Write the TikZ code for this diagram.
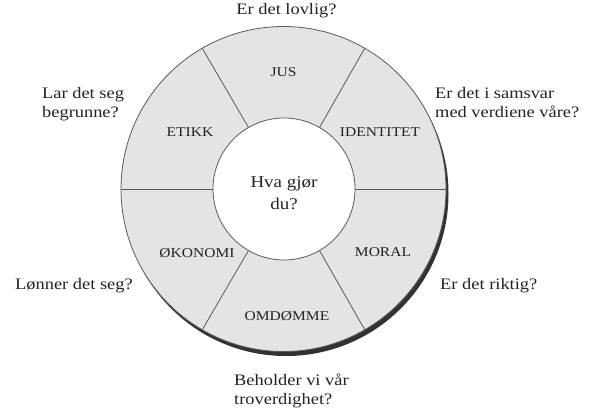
\documentclass[tikz,border=0pt]{standalone}
\usepackage{fontspec}
\setmainfont{Liberation Serif}[FakeStretch=1.15]
\definecolor{sectorfill}{RGB}{228,228,228}
\definecolor{rimline}{RGB}{90,90,90}
\definecolor{shadowc}{RGB}{50,50,50}
\definecolor{txt}{RGB}{35,35,35}
\begin{document}
\begin{tikzpicture}[x=1pt,y=-1pt,
  question/.style={inner sep=0pt, align=left, anchor=north west, text=txt, font=\fontsize{16}{19}\selectfont},
  sector/.style={inner sep=0pt, text=txt, font=\fontsize{13.5}{16}\selectfont},
  ring/.style={circle, inner sep=0pt, outer sep=0pt, draw=rimline, line width=0.8pt},
  divider/.style={draw=rimline, line width=0.8pt}]
\useasboundingbox (0,0) rectangle (605,410);
\fill[white] (0,0) rectangle (605,410);
% shadow
\fill[shadowc] (286,193.5) circle (162.5);
\node[ring, minimum size=325pt, fill=sectorfill] (outer) at (283.5,189) {};
\node[ring, minimum size=142pt, fill=white] (inner) at (284,189) {};
\foreach \a in {0,60,...,300} \draw[divider] (inner.\a) -- (outer.\a);
% centre text
\node[inner sep=0pt, align=center, text=txt, font=\fontsize{16.5}{22}\selectfont] (centre) at (284,193.5) {Hva gjør\\du?};
% sector labels
\node[sector] (jus) at (283.5,72) {JUS};
\node[sector] (etikk) at (190,132) {ETIKK};
\node[sector] (identitet) at (380,132) {IDENTITET};
\node[sector] (okonomi) at (197,253) {ØKONOMI};
\node[sector] (moral) at (383,252) {MORAL};
\node[sector] (omdomme) at (287,316) {OMDØMME};
% questions
\node[question, anchor=north] (q1) at (286.5,3) {Er det lovlig?};
\node[question] (q2) at (42,87) {Lar det seg\\begrunne?};
\node[question] (q3) at (435,87) {Er det i samsvar\\med verdiene våre?};
\node[question] (q4) at (15,278) {Lønner det seg?};
\node[question] (q5) at (440,278) {Er det riktig?};
\node[question] (q6) at (234,374) {Beholder vi vår\\troverdighet?};
\end{tikzpicture}
\end{document}
